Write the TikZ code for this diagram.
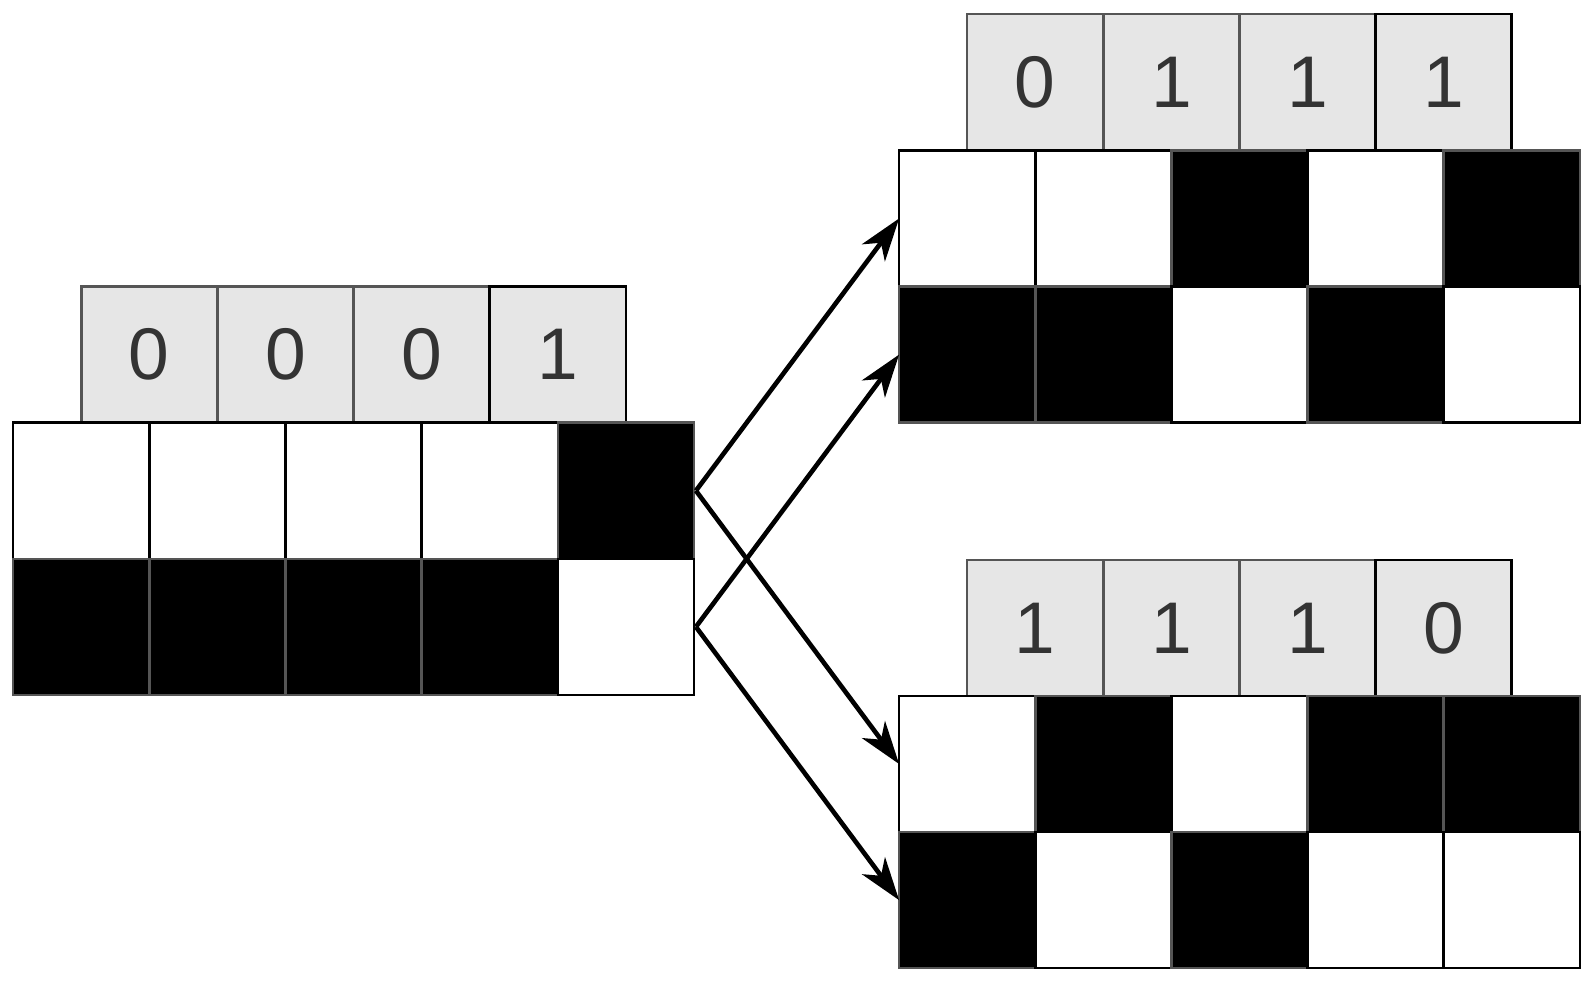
\documentclass[tikz,border=0pt]{standalone}
\usepackage{fontspec}
\setmainfont{Liberation Sans}
\usetikzlibrary{arrows.meta}
\definecolor{hdr}{HTML}{E6E6E6}
\definecolor{edge}{HTML}{555555}
\definecolor{txt}{HTML}{333333}
\begin{document}
\begin{tikzpicture}[x=0.02cm,y=-0.02cm,
  wcell/.style={draw=black,fill=white,line width=1.4pt},
  bcell/.style={draw=edge,fill=black,line width=1.4pt},
  hcell/.style={draw=edge,fill=hdr,line width=1.4pt},
  lastcell/.style={draw=black,fill=hdr,line width=1.4pt},
  dig/.style={text=txt,font=\fontsize{41}{41}\selectfont},
  arr/.style={line width=2.6pt,-{Stealth[length=24pt,width=16pt,inset=7pt]}}]
\useasboundingbox (0,0) rectangle (1568,968.6);
\newcommand{\grid}[5]{%
  \foreach \d [count=\i] in {#3} {
    \pgfmathsetmacro{\xx}{#1+67+(\i-1)*134}
    \path[hcell] (\xx,#2) rectangle ++(134,134);
    \node[dig] at (\xx+67,#2+67) {\d};
  }
  \path[lastcell] (#1+469,#2) rectangle ++(134,134);
  \foreach \c [count=\i] in {#4} {
    \pgfmathsetmacro{\xx}{#1+(\i-1)*134}
    \path[\c cell] (\xx,#2+134) rectangle ++(134,134);
  }
  \foreach \c [count=\i] in {#5} {
    \pgfmathsetmacro{\xx}{#1+(\i-1)*134}
    \path[\c cell] (\xx,#2+268) rectangle ++(134,134);
  }
}
\grid{13}{282}{0,0,0,1}{w,w,w,w,b}{b,b,b,b,w}
\grid{885}{14}{0,1,1,1}{w,w,b,w,b}{b,b,w,b,w}
\grid{885}{551}{1,1,1,0}{w,b,w,b,b}{b,w,b,w,w}
\node[dig] at (13+469+67,282+67) {1};
\node[dig] at (885+469+67,14+67) {1};
\node[dig] at (885+469+67,551+67) {0};
\coordinate (s1) at (685,483);
\coordinate (s2) at (685,617);
\coordinate (t1) at (885,215);
\coordinate (t2) at (885,349);
\coordinate (t3) at (885,752);
\coordinate (t4) at (885,886);
\draw[arr] (s1) -- (t1);
\draw[arr] (s1) -- (t3);
\draw[arr] (s2) -- (t2);
\draw[arr] (s2) -- (t4);
\end{tikzpicture}
\end{document}
